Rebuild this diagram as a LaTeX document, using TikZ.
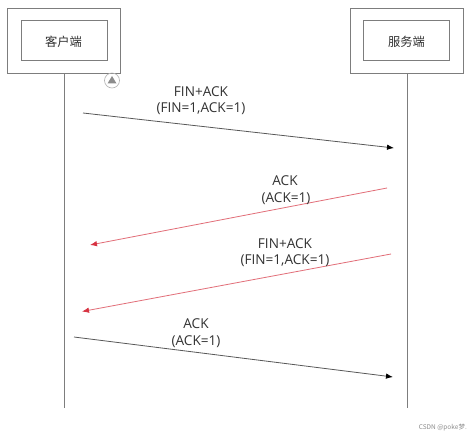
\documentclass[tikz,border=0pt]{standalone}
\usepackage{fontspec}
\setmainfont{Open Sans}
\newfontfamily\cjk{Noto Sans CJK SC}
\definecolor{linegray}{RGB}{125,125,125}
\definecolor{redline}{RGB}{226,110,120}
\definecolor{redtip}{RGB}{215,50,65}
\definecolor{txt}{RGB}{50,50,50}
\usetikzlibrary{arrows.meta}
\tikzset{
  boxline/.style={draw=linegray,line width=0.9pt,inner sep=0pt},
  life/.style={draw=linegray,line width=1pt},
  blackmsg/.style={draw=linegray!70!black,line width=0.8pt,-{Latex[length=7pt,width=5.5pt,color=black]}},
  redmsg/.style={draw=redline,line width=0.8pt,-{Latex[length=7pt,width=5.5pt,color=redtip]}},
  lab/.style={text=txt,font=\fontsize{13.6}{15}\selectfont,inner sep=0pt,anchor=center},
  cjklab/.style={text=txt,font=\cjk\fontsize{12.3}{14}\selectfont,inner sep=0pt,anchor=center}
}
\begin{document}
\begin{tikzpicture}[x=1pt,y=-1pt]
\useasboundingbox (0,0) rectangle (474,436);
\fill[white] (0,0) rectangle (474,436);
% boxes
\node[boxline,minimum width=113pt,minimum height=65pt] (cOuter) at (64,40.5) {};
\node[boxline,minimum width=86pt,minimum height=39.5pt] (cInner) at (64,40.5) {};
\node[cjklab] (cText) at (63.5,41.5) {客户端};
\node[boxline,minimum width=113pt,minimum height=65pt] (sOuter) at (406.5,40.5) {};
\node[boxline,minimum width=86pt,minimum height=39.5pt] (sInner) at (406.5,40.5) {};
\node[cjklab] (sText) at (406.5,41.5) {服务端};
% lifelines
\coordinate (cEnd) at (64,408);
\coordinate (sEnd) at (407.5,408);
\draw[life] (cOuter.south) -- (cEnd);
\draw[life] (sOuter.south -| sEnd) -- (sEnd);
% icon
\node[circle,draw=black!30,line width=0.6pt,minimum size=15pt,inner sep=0pt] (icon) at (112,80.5) {};
\fill[black!45] (112,76) -- (116.5,83.5) -- (107.5,83.5) -- cycle;
% messages
\coordinate (a1) at (83,113); \coordinate (a2) at (394,148);
\coordinate (b1) at (387,188); \coordinate (b2) at (90,245);
\coordinate (c1) at (391,254); \coordinate (c2) at (82,311.5);
\coordinate (d1) at (74,337); \coordinate (d2) at (393,377);
\draw[blackmsg] (a1) -- (a2);
\draw[redmsg] (b1) -- (b2);
\draw[redmsg] (c1) -- (c2);
\draw[blackmsg] (d1) -- (d2);
% labels
\node[lab] (l1a) at (201,92) {FIN+ACK};
\node[lab] (l1b) at (201,109) {(FIN=1,ACK=1)};
\node[lab] (l2a) at (285,181) {ACK};
\node[lab] (l2b) at (286,198.5) {(ACK=1)};
\node[lab] (l3a) at (285,244) {FIN+ACK};
\node[lab] (l3b) at (285,261) {(FIN=1,ACK=1)};
\node[lab] (l4a) at (196,324) {ACK};
\node[lab] (l4b) at (196,341.5) {(ACK=1)};
\node[text=black!45,font=\cjk\fontsize{6.5}{7}\selectfont,anchor=east,inner sep=0pt] (wm) at (467,428) {CSDN @poke梦.};
\end{tikzpicture}
\end{document}
